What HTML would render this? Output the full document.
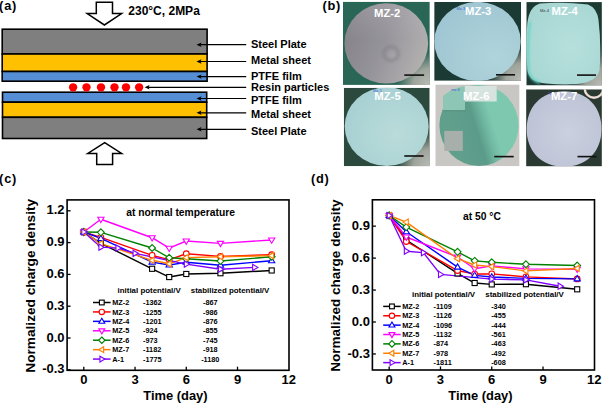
<!DOCTYPE html>
<html><head><meta charset="utf-8"><style>
html,body{margin:0;padding:0;background:#fff;width:603px;height:403px;overflow:hidden}
svg{display:block;font-family:"Liberation Sans",sans-serif;font-weight:bold}
</style></head><body>
<svg width="603" height="403" viewBox="0 0 603 403">
<text x="-0.9" y="9.5" font-size="12.8" letter-spacing="0.8">(a)</text>
<polygon points="96.3,2.3 112.5,2.3 112.5,13.6 121.6,13.6 104.4,25.0 87.2,13.6 96.3,13.6" fill="#fff" stroke="#000" stroke-width="1.5"/>
<text x="128.3" y="14.8" font-size="12">230°C, 2MPa</text>
<rect x="2.2" y="29.2" width="204.9" height="24.8" fill="#7f7f7f" stroke="#000" stroke-width="1.6"/>
<rect x="2.2" y="54" width="204.9" height="17.5" fill="#ffc000" stroke="#000" stroke-width="1.6"/>
<rect x="2.2" y="71.5" width="204.9" height="9.7" fill="#558ed5" stroke="#000" stroke-width="1.6"/>
<rect x="2.5" y="92.2" width="204.2" height="10" fill="#558ed5" stroke="#000" stroke-width="1.6"/>
<rect x="2.5" y="102.2" width="204.2" height="15.1" fill="#ffc000" stroke="#000" stroke-width="1.6"/>
<rect x="2.5" y="117.3" width="204.2" height="21.2" fill="#7f7f7f" stroke="#000" stroke-width="1.6"/>
<circle cx="73.1" cy="87.3" r="4.15" fill="#ff0000"/>
<circle cx="86.5" cy="87.3" r="4.15" fill="#ff0000"/>
<circle cx="101.0" cy="87.3" r="4.15" fill="#ff0000"/>
<circle cx="114.5" cy="87.3" r="4.15" fill="#ff0000"/>
<circle cx="126.0" cy="87.3" r="4.15" fill="#ff0000"/>
<circle cx="139.1" cy="87.3" r="4.15" fill="#ff0000"/>
<polygon points="104.7,142.7 121.6,153.4 112.6,153.4 112.6,164.6 96.7,164.6 96.7,153.4 87.8,153.4" fill="#fff" stroke="#000" stroke-width="1.5"/>
<line x1="199.5" y1="44.7" x2="246.2" y2="44.7" stroke="#000" stroke-width="1.2"/>
<polygon points="196.5,44.7 201.5,42.5 200.5,44.7 201.5,46.900000000000006" fill="#000"/>
<line x1="199.5" y1="61.5" x2="246.2" y2="61.5" stroke="#000" stroke-width="1.2"/>
<polygon points="196.5,61.5 201.5,59.3 200.5,61.5 201.5,63.7" fill="#000"/>
<line x1="199.5" y1="76.6" x2="246.2" y2="76.6" stroke="#000" stroke-width="1.2"/>
<polygon points="196.5,76.6 201.5,74.39999999999999 200.5,76.6 201.5,78.8" fill="#000"/>
<line x1="147.6" y1="87.3" x2="246.2" y2="87.3" stroke="#000" stroke-width="1.2"/>
<polygon points="144.6,87.3 149.6,85.1 148.6,87.3 149.6,89.5" fill="#000"/>
<line x1="199.5" y1="98.5" x2="246.2" y2="98.5" stroke="#000" stroke-width="1.2"/>
<polygon points="196.5,98.5 201.5,96.3 200.5,98.5 201.5,100.7" fill="#000"/>
<line x1="199.5" y1="112.8" x2="246.2" y2="112.8" stroke="#000" stroke-width="1.2"/>
<polygon points="196.5,112.8 201.5,110.6 200.5,112.8 201.5,115.0" fill="#000"/>
<line x1="199.5" y1="129.3" x2="246.2" y2="129.3" stroke="#000" stroke-width="1.2"/>
<polygon points="196.5,129.3 201.5,127.10000000000001 200.5,129.3 201.5,131.5" fill="#000"/>
<text x="251" y="47.8" font-size="11">Steel Plate</text>
<text x="251" y="64.2" font-size="11">Metal sheet</text>
<text x="251" y="79.6" font-size="11">PTFE film</text>
<text x="251" y="91.2" font-size="11">Resin particles</text>
<text x="251" y="103.6" font-size="11">PTFE film</text>
<text x="251" y="117.7" font-size="11">Metal sheet</text>
<text x="251" y="134.5" font-size="11">Steel Plate</text>
<text x="322.4" y="9.6" font-size="12.8" letter-spacing="0.8">(b)</text>
<defs>
<clipPath id="c1"><rect x="343" y="1.7" width="86.8" height="83.2"/></clipPath>
<clipPath id="c2"><rect x="434.2" y="1.9" width="86.8" height="78.9"/></clipPath>
<clipPath id="c3"><rect x="526.3" y="2.1" width="75.6" height="83.4"/></clipPath>
<clipPath id="c4"><rect x="343.8" y="87.8" width="85.9" height="78.4"/></clipPath>
<clipPath id="c5"><rect x="435.3" y="84.4" width="84.3" height="81.8"/></clipPath>
<clipPath id="c6"><rect x="526.1" y="89.3" width="75.8" height="77.1"/></clipPath>
<linearGradient id="g1" x1="0" y1="0.3" x2="1" y2="0.7"><stop offset="0" stop-color="#858389"/><stop offset="0.45" stop-color="#95939a"/><stop offset="0.8" stop-color="#a9a7a9"/><stop offset="1" stop-color="#b5b3af"/></linearGradient>
<linearGradient id="g1t" x1="0" y1="0" x2="0" y2="1"><stop offset="0" stop-color="#fff" stop-opacity="0.14"/><stop offset="0.45" stop-color="#fff" stop-opacity="0"/></linearGradient>
<radialGradient id="g2" cx="0.7" cy="0.7" r="0.8"><stop offset="0" stop-color="#b0d4db"/><stop offset="1" stop-color="#9ec5d2"/></radialGradient>
<radialGradient id="g3" cx="0.6" cy="0.55" r="0.75"><stop offset="0" stop-color="#b6e0dc"/><stop offset="1" stop-color="#a5d5d2"/></radialGradient>
<filter id="bl" x="-0.5" y="-0.5" width="2" height="2"><feGaussianBlur stdDeviation="0.8"/></filter>
<radialGradient id="g4" cx="0.62" cy="0.6" r="0.7"><stop offset="0" stop-color="#badcda"/><stop offset="1" stop-color="#a6cfd2"/></radialGradient>
<linearGradient id="g5" x1="0.2" y1="0.62" x2="0.68" y2="0.47"><stop offset="0" stop-color="#619f8d"/><stop offset="0.55" stop-color="#5b9b89"/><stop offset="0.8" stop-color="#70b8a2"/><stop offset="1" stop-color="#7fc8b0"/></linearGradient>
<radialGradient id="g6" cx="0.55" cy="0.55" r="0.7"><stop offset="0" stop-color="#cbd0df"/><stop offset="1" stop-color="#bac0d4"/></radialGradient>
<radialGradient id="ref" cx="1" cy="1" r="1"><stop offset="0" stop-color="#b9bcb4"/><stop offset="0.5" stop-color="#a4a8a0" stop-opacity="0.95"/><stop offset="1" stop-color="#9a9e96" stop-opacity="0"/></radialGradient>
</defs>
<g clip-path="url(#c1)"><rect x="343" y="1.7" width="86.8" height="83.2" fill="#2a6656"/>
<rect x="397" y="52" width="33" height="33" fill="url(#ref)"/>
<ellipse cx="386.3" cy="43.4" rx="41.8" ry="40.2" fill="url(#g1)"/>
<ellipse cx="386.3" cy="43.4" rx="41.8" ry="40.2" fill="url(#g1t)"/>
<filter id="bl2" x="-0.5" y="-0.5" width="2" height="2"><feGaussianBlur stdDeviation="1.6"/></filter>
<ellipse cx="391" cy="53.5" rx="7.5" ry="7" fill="none" stroke="#737177" stroke-width="3" opacity="0.4" filter="url(#bl2)"/>
<ellipse cx="392" cy="55" rx="3" ry="3" fill="#b0aeb0" opacity="0.5" filter="url(#bl2)"/></g>
<text x="387.2" y="17" font-size="11.3" fill="#fff" text-anchor="middle">MZ-2</text>
<rect x="404.3" y="74.3" width="19.8" height="1.6" fill="#111"/>
<g clip-path="url(#c2)"><rect x="434.2" y="1.9" width="86.8" height="78.9" fill="#1b3a34"/>
<rect x="490" y="46" width="31" height="35" fill="url(#ref)"/>
<ellipse cx="477.5" cy="41.5" rx="43.2" ry="39.6" fill="url(#g2)"/></g>
<text x="478.2" y="15.3" font-size="11.3" fill="#fff" text-anchor="middle">MZ-3</text>
<rect x="496" y="74" width="19" height="1.6" fill="#111"/>
<g clip-path="url(#c3)"><rect x="526.3" y="2.1" width="75.6" height="83.4" fill="#1c3932"/>
<rect x="570" y="50" width="32" height="36" fill="url(#ref)"/>
<path d="M540,3.5 Q563,1.5 588,4.5 Q597,8 598.5,20 Q601.5,45 599.5,70 Q597,82 577,84 Q563,85 546,83.5 Q529,82 527.5,70 Q525,45 527.5,22 Q529.5,6.5 540,3.5 Z" fill="url(#g3)"/>
<path d="M530,22 Q527,45 528.5,70 Q530,80 540,83" fill="none" stroke="#68d4c6" stroke-width="2.2" filter="url(#bl)"/></g>
<text x="564.7" y="15.3" font-size="11.3" fill="#fff" text-anchor="middle">MZ-4</text>
<rect x="577" y="74.3" width="19" height="1.6" fill="#111"/>
<g clip-path="url(#c4)"><rect x="343.8" y="87.8" width="85.9" height="78.4" fill="#2c493e"/>
<rect x="397" y="132" width="33" height="34.5" fill="url(#ref)"/>
<ellipse cx="386.7" cy="126.6" rx="42" ry="39.3" fill="url(#g4)"/></g>
<text x="387.5" y="99.7" font-size="11.3" fill="#fff" text-anchor="middle">MZ-5</text>
<rect x="404.3" y="155.2" width="19.3" height="1.6" fill="#111"/>
<g clip-path="url(#c5)"><rect x="435.3" y="84.4" width="84.3" height="81.8" fill="#c8c7c4"/>
<ellipse cx="479" cy="125.5" rx="39.6" ry="40.5" fill="url(#g5)"/>
<path d="M443,110.7 L443,96 Q452,88 465,86 L465,110.7 Z" fill="#8dc6b5"/>
<line x1="443" y1="110.7" x2="466" y2="110.7" stroke="#4a8070" stroke-width="0.8"/>
<rect x="464.8" y="86" width="31.9" height="15.5" fill="#d6e3de"/>
<rect x="444.3" y="130.9" width="18.5" height="20" fill="#a7afab"/></g>
<text x="476.3" y="100.1" font-size="11.3" fill="#fff" text-anchor="middle">MZ-6</text>
<rect x="494.3" y="155.8" width="19.4" height="1.6" fill="#111"/>
<g clip-path="url(#c6)"><rect x="526.1" y="89.3" width="75.8" height="77.1" fill="#2a3a32"/>
<path d="M564.1,91.2 C586.54,91.2 601.5,106.32 601.5,129 C601.5,151.68 586.54,166.8 564.1,166.8 C541.66,166.8 526.7,151.68 526.7,129 C526.7,106.32 541.66,91.2 564.1,91.2 Z" fill="url(#g6)"/>
<circle cx="594" cy="88.4" r="9.3" fill="none" stroke="#efdcd6" stroke-width="2.4"/></g>
<text x="564.1" y="99.7" font-size="11.3" fill="#fff" text-anchor="middle">MZ-7</text>
<rect x="577.5" y="155.8" width="19" height="1.6" fill="#111"/>
<g font-size="4" font-weight="normal" fill="#3a5fd0">
<text x="456.4" y="9.6">Mz-3</text>
<text x="540" y="11.8" fill="#334">Mz-4</text>
<text x="373" y="91.6">Mz-5</text>
<text x="451.2" y="91">mz-6</text>
<path d="M548.5,92.5 L551,94.5" stroke="#5b5bd0" stroke-width="0.8"/>
</g>
<text x="-0.9" y="183.3" font-size="12.8" letter-spacing="0.8">(c)</text>
<polyline points="83.8,232 100.88,243.34 152.12,268.78 169.2,277.05 186.28,273.98 220.44,273.23 271.68,270.48" fill="none" stroke="#000000" stroke-width="1.4" stroke-linejoin="round"/>
<polyline points="83.8,232 100.88,237.3 152.12,255.32 169.2,259.56 186.28,253.73 220.44,256.38 271.68,254.68" fill="none" stroke="#ff0000" stroke-width="1.4" stroke-linejoin="round"/>
<polyline points="83.8,232 100.88,238.47 152.12,262.1 169.2,264.97 186.28,262.32 220.44,265.28 271.68,260.73" fill="none" stroke="#0000ff" stroke-width="1.4" stroke-linejoin="round"/>
<polyline points="83.8,232 100.88,219.28 152.12,237.72 169.2,248.22 186.28,241.01 220.44,243.34 271.68,239.95" fill="none" stroke="#ff00ff" stroke-width="1.4" stroke-linejoin="round"/>
<polyline points="83.8,232 100.88,232.32 152.12,248.01 169.2,257.76 186.28,258.82 220.44,261.04 271.68,256.8" fill="none" stroke="#008000" stroke-width="1.4" stroke-linejoin="round"/>
<polyline points="83.8,232 100.88,243.66 152.12,260.3 169.2,263.8 186.28,257.65 220.44,256.7 271.68,255.64" fill="none" stroke="#ff8000" stroke-width="1.4" stroke-linejoin="round"/>
<polyline points="83.8,232 100.88,247.16 117.96,248.11 135.04,253.31 186.28,264.12 220.44,269.21 254.6,267.4" fill="none" stroke="#8000ff" stroke-width="1.4" stroke-linejoin="round"/>
<rect x="81.25" y="229.45" width="5.1" height="5.1" fill="#fff" stroke="#000000" stroke-width="1.1"/>
<rect x="98.33" y="240.79" width="5.1" height="5.1" fill="#fff" stroke="#000000" stroke-width="1.1"/>
<rect x="149.57" y="266.23" width="5.1" height="5.1" fill="#fff" stroke="#000000" stroke-width="1.1"/>
<rect x="166.65" y="274.5" width="5.1" height="5.1" fill="#fff" stroke="#000000" stroke-width="1.1"/>
<rect x="183.73" y="271.43" width="5.1" height="5.1" fill="#fff" stroke="#000000" stroke-width="1.1"/>
<rect x="217.89" y="270.68" width="5.1" height="5.1" fill="#fff" stroke="#000000" stroke-width="1.1"/>
<rect x="269.13" y="267.93" width="5.1" height="5.1" fill="#fff" stroke="#000000" stroke-width="1.1"/>
<circle cx="83.8" cy="232" r="2.85" fill="#fff" stroke="#ff0000" stroke-width="1.1"/>
<circle cx="100.88" cy="237.3" r="2.85" fill="#fff" stroke="#ff0000" stroke-width="1.1"/>
<circle cx="152.12" cy="255.32" r="2.85" fill="#fff" stroke="#ff0000" stroke-width="1.1"/>
<circle cx="169.2" cy="259.56" r="2.85" fill="#fff" stroke="#ff0000" stroke-width="1.1"/>
<circle cx="186.28" cy="253.73" r="2.85" fill="#fff" stroke="#ff0000" stroke-width="1.1"/>
<circle cx="220.44" cy="256.38" r="2.85" fill="#fff" stroke="#ff0000" stroke-width="1.1"/>
<circle cx="271.68" cy="254.68" r="2.85" fill="#fff" stroke="#ff0000" stroke-width="1.1"/>
<polygon points="83.8,228.7 86.94,233.98 80.66,233.98" fill="#fff" stroke="#0000ff" stroke-width="1.1"/>
<polygon points="100.88,235.17 104.02,240.45 97.74,240.45" fill="#fff" stroke="#0000ff" stroke-width="1.1"/>
<polygon points="152.12,258.8 155.25,264.08 148.99,264.08" fill="#fff" stroke="#0000ff" stroke-width="1.1"/>
<polygon points="169.2,261.67 172.33,266.95 166.06,266.95" fill="#fff" stroke="#0000ff" stroke-width="1.1"/>
<polygon points="186.28,259.02 189.41,264.3 183.14,264.3" fill="#fff" stroke="#0000ff" stroke-width="1.1"/>
<polygon points="220.44,261.98 223.57,267.26 217.31,267.26" fill="#fff" stroke="#0000ff" stroke-width="1.1"/>
<polygon points="271.68,257.43 274.81,262.71 268.55,262.71" fill="#fff" stroke="#0000ff" stroke-width="1.1"/>
<polygon points="83.8,235.3 86.94,230.02 80.66,230.02" fill="#fff" stroke="#ff00ff" stroke-width="1.1"/>
<polygon points="100.88,222.58 104.02,217.3 97.74,217.3" fill="#fff" stroke="#ff00ff" stroke-width="1.1"/>
<polygon points="152.12,241.02 155.25,235.74 148.99,235.74" fill="#fff" stroke="#ff00ff" stroke-width="1.1"/>
<polygon points="169.2,251.52 172.33,246.24 166.06,246.24" fill="#fff" stroke="#ff00ff" stroke-width="1.1"/>
<polygon points="186.28,244.31 189.41,239.03 183.14,239.03" fill="#fff" stroke="#ff00ff" stroke-width="1.1"/>
<polygon points="220.44,246.64 223.57,241.36 217.31,241.36" fill="#fff" stroke="#ff00ff" stroke-width="1.1"/>
<polygon points="271.68,243.25 274.81,237.97 268.55,237.97" fill="#fff" stroke="#ff00ff" stroke-width="1.1"/>
<polygon points="83.8,228.55 87.25,232 83.8,235.45 80.35,232" fill="#fff" stroke="#008000" stroke-width="1.1"/>
<polygon points="100.88,228.87 104.33,232.32 100.88,235.77 97.43,232.32" fill="#fff" stroke="#008000" stroke-width="1.1"/>
<polygon points="152.12,244.56 155.57,248.01 152.12,251.46 148.67,248.01" fill="#fff" stroke="#008000" stroke-width="1.1"/>
<polygon points="169.2,254.31 172.65,257.76 169.2,261.21 165.75,257.76" fill="#fff" stroke="#008000" stroke-width="1.1"/>
<polygon points="186.28,255.37 189.73,258.82 186.28,262.27 182.83,258.82" fill="#fff" stroke="#008000" stroke-width="1.1"/>
<polygon points="220.44,257.59 223.89,261.04 220.44,264.49 216.99,261.04" fill="#fff" stroke="#008000" stroke-width="1.1"/>
<polygon points="271.68,253.35 275.13,256.8 271.68,260.25 268.23,256.8" fill="#fff" stroke="#008000" stroke-width="1.1"/>
<polygon points="80.5,232 85.78,228.87 85.78,235.13" fill="#fff" stroke="#ff8000" stroke-width="1.1"/>
<polygon points="97.58,243.66 102.86,240.53 102.86,246.79" fill="#fff" stroke="#ff8000" stroke-width="1.1"/>
<polygon points="148.82,260.3 154.1,257.17 154.1,263.44" fill="#fff" stroke="#ff8000" stroke-width="1.1"/>
<polygon points="165.9,263.8 171.18,260.67 171.18,266.94" fill="#fff" stroke="#ff8000" stroke-width="1.1"/>
<polygon points="182.98,257.65 188.26,254.52 188.26,260.79" fill="#fff" stroke="#ff8000" stroke-width="1.1"/>
<polygon points="217.14,256.7 222.42,253.56 222.42,259.83" fill="#fff" stroke="#ff8000" stroke-width="1.1"/>
<polygon points="268.38,255.64 273.66,252.5 273.66,258.77" fill="#fff" stroke="#ff8000" stroke-width="1.1"/>
<polygon points="87.1,232 81.82,228.87 81.82,235.13" fill="#fff" stroke="#8000ff" stroke-width="1.1"/>
<polygon points="104.18,247.16 98.9,244.02 98.9,250.29" fill="#fff" stroke="#8000ff" stroke-width="1.1"/>
<polygon points="121.26,248.11 115.98,244.98 115.98,251.25" fill="#fff" stroke="#8000ff" stroke-width="1.1"/>
<polygon points="138.34,253.31 133.06,250.17 133.06,256.44" fill="#fff" stroke="#8000ff" stroke-width="1.1"/>
<polygon points="189.58,264.12 184.3,260.98 184.3,267.25" fill="#fff" stroke="#8000ff" stroke-width="1.1"/>
<polygon points="223.74,269.21 218.46,266.07 218.46,272.34" fill="#fff" stroke="#8000ff" stroke-width="1.1"/>
<polygon points="257.9,267.4 252.62,264.27 252.62,270.54" fill="#fff" stroke="#8000ff" stroke-width="1.1"/>
<rect x="67.1" y="199.9" width="221.9" height="170.4" fill="none" stroke="#000" stroke-width="1.6"/>
<line x1="67.1" y1="210.8" x2="70.6" y2="210.8" stroke="#000" stroke-width="1.3"/>
<text x="64.6" y="214.4" font-size="13" text-anchor="end">1.2</text>
<line x1="67.1" y1="242.6" x2="70.6" y2="242.6" stroke="#000" stroke-width="1.3"/>
<text x="64.6" y="246.2" font-size="13" text-anchor="end">0.9</text>
<line x1="67.1" y1="274.4" x2="70.6" y2="274.4" stroke="#000" stroke-width="1.3"/>
<text x="64.6" y="278" font-size="13" text-anchor="end">0.6</text>
<line x1="67.1" y1="306.2" x2="70.6" y2="306.2" stroke="#000" stroke-width="1.3"/>
<text x="64.6" y="309.8" font-size="13" text-anchor="end">0.3</text>
<line x1="67.1" y1="338" x2="70.6" y2="338" stroke="#000" stroke-width="1.3"/>
<text x="64.6" y="341.6" font-size="13" text-anchor="end">0.0</text>
<line x1="67.1" y1="369.8" x2="70.6" y2="369.8" stroke="#000" stroke-width="1.3"/>
<text x="64.6" y="373.4" font-size="13" text-anchor="end">-0.3</text>
<line x1="83.8" y1="370.3" x2="83.8" y2="366.7" stroke="#000" stroke-width="1.3"/>
<text x="83.8" y="384.3" font-size="13" text-anchor="middle">0</text>
<line x1="135.04" y1="370.3" x2="135.04" y2="366.7" stroke="#000" stroke-width="1.3"/>
<text x="135.04" y="384.3" font-size="13" text-anchor="middle">3</text>
<line x1="186.28" y1="370.3" x2="186.28" y2="366.7" stroke="#000" stroke-width="1.3"/>
<text x="186.28" y="384.3" font-size="13" text-anchor="middle">6</text>
<line x1="237.52" y1="370.3" x2="237.52" y2="366.7" stroke="#000" stroke-width="1.3"/>
<text x="237.52" y="384.3" font-size="13" text-anchor="middle">9</text>
<text x="288.76" y="384.3" font-size="13" text-anchor="middle">12</text>
<text x="143.3" y="399.8" font-size="12.9">Time (day)</text>
<text transform="translate(35,372.7) rotate(-90)" font-size="13.66">Normalized charge density</text>
<text x="126.2" y="216.3" font-size="10.3">at normal temperature</text>
<text x="117.6" y="292.9" font-size="7.9">initial potential/V</text>
<text x="190.8" y="292.6" font-size="7.9">stabilized potential/V</text>
<line x1="93" y1="302.5" x2="110.6" y2="302.5" stroke="#000000" stroke-width="1.5"/>
<rect x="99.42" y="300.12" width="4.76" height="4.76" fill="#fff" stroke="#000000" stroke-width="1.15"/>
<text x="112.2" y="305.1" font-size="7.3">MZ-2</text>
<text x="143" y="305.1" font-size="7.3">-1362</text>
<text x="210.3" y="305.1" font-size="7.3" text-anchor="middle">-867</text>
<line x1="93" y1="311.93" x2="110.6" y2="311.93" stroke="#ff0000" stroke-width="1.5"/>
<circle cx="101.8" cy="311.93" r="2.66" fill="#fff" stroke="#ff0000" stroke-width="1.15"/>
<text x="112.2" y="314.53" font-size="7.3">MZ-3</text>
<text x="143" y="314.53" font-size="7.3">-1255</text>
<text x="210.3" y="314.53" font-size="7.3" text-anchor="middle">-986</text>
<line x1="93" y1="321.36" x2="110.6" y2="321.36" stroke="#0000ff" stroke-width="1.5"/>
<polygon points="101.8,318.28 104.73,323.21 98.87,323.21" fill="#fff" stroke="#0000ff" stroke-width="1.15"/>
<text x="112.2" y="323.96" font-size="7.3">MZ-4</text>
<text x="143" y="323.96" font-size="7.3">-1201</text>
<text x="210.3" y="323.96" font-size="7.3" text-anchor="middle">-876</text>
<line x1="93" y1="330.79" x2="110.6" y2="330.79" stroke="#ff00ff" stroke-width="1.5"/>
<polygon points="101.8,333.87 104.73,328.94 98.87,328.94" fill="#fff" stroke="#ff00ff" stroke-width="1.15"/>
<text x="112.2" y="333.39" font-size="7.3">MZ-5</text>
<text x="143" y="333.39" font-size="7.3">-924</text>
<text x="210.3" y="333.39" font-size="7.3" text-anchor="middle">-855</text>
<line x1="93" y1="340.22" x2="110.6" y2="340.22" stroke="#008000" stroke-width="1.5"/>
<polygon points="101.8,337 105.02,340.22 101.8,343.44 98.58,340.22" fill="#fff" stroke="#008000" stroke-width="1.15"/>
<text x="112.2" y="342.82" font-size="7.3">MZ-6</text>
<text x="143" y="342.82" font-size="7.3">-973</text>
<text x="210.3" y="342.82" font-size="7.3" text-anchor="middle">-745</text>
<line x1="93" y1="349.65" x2="110.6" y2="349.65" stroke="#ff8000" stroke-width="1.5"/>
<polygon points="98.72,349.65 103.65,346.72 103.65,352.58" fill="#fff" stroke="#ff8000" stroke-width="1.15"/>
<text x="112.2" y="352.25" font-size="7.3">MZ-7</text>
<text x="143" y="352.25" font-size="7.3">-1182</text>
<text x="210.3" y="352.25" font-size="7.3" text-anchor="middle">-918</text>
<line x1="93" y1="359.08" x2="110.6" y2="359.08" stroke="#8000ff" stroke-width="1.5"/>
<polygon points="104.88,359.08 99.95,356.15 99.95,362.01" fill="#fff" stroke="#8000ff" stroke-width="1.15"/>
<text x="112.2" y="361.68" font-size="7.3">A-1</text>
<text x="143" y="361.68" font-size="7.3">-1775</text>
<text x="210.3" y="361.68" font-size="7.3" text-anchor="middle">-1180</text>
<text x="310.9" y="183.3" font-size="12.8" letter-spacing="0.8">(d)</text>
<polyline points="389.2,215.5 406.29,240 457.56,273.44 474.65,283.02 491.74,284.41 525.92,284.19 577.19,289.3" fill="none" stroke="#000000" stroke-width="1.4" stroke-linejoin="round"/>
<polyline points="389.2,215.5 406.29,241.49 457.56,270.56 474.65,274.07 491.74,273.86 525.92,276.84 577.19,278.97" fill="none" stroke="#ff0000" stroke-width="1.4" stroke-linejoin="round"/>
<polyline points="389.2,215.5 406.29,231.79 457.56,267.15 474.65,275.35 491.74,277.06 525.92,278.33 577.19,278.87" fill="none" stroke="#0000ff" stroke-width="1.4" stroke-linejoin="round"/>
<polyline points="389.2,215.5 406.29,237.01 457.56,257.03 474.65,268.75 491.74,265.87 525.92,268.86 577.19,269.18" fill="none" stroke="#ff00ff" stroke-width="1.4" stroke-linejoin="round"/>
<polyline points="389.2,215.5 406.29,227.11 457.56,251.82 474.65,260.87 491.74,262.25 525.92,264.28 577.19,265.56" fill="none" stroke="#008000" stroke-width="1.4" stroke-linejoin="round"/>
<polyline points="389.2,215.5 406.29,222.1 457.56,258.63 474.65,265.02 491.74,266.62 525.92,270.88 577.19,268.43" fill="none" stroke="#ff8000" stroke-width="1.4" stroke-linejoin="round"/>
<polyline points="389.2,215.5 406.29,251.18 423.38,252.67 440.47,274.39 491.74,279.08 525.92,279.83 560.1,286.22" fill="none" stroke="#8000ff" stroke-width="1.4" stroke-linejoin="round"/>
<rect x="386.65" y="212.95" width="5.1" height="5.1" fill="#fff" stroke="#000000" stroke-width="1.1"/>
<rect x="403.74" y="237.44" width="5.1" height="5.1" fill="#fff" stroke="#000000" stroke-width="1.1"/>
<rect x="455.01" y="270.89" width="5.1" height="5.1" fill="#fff" stroke="#000000" stroke-width="1.1"/>
<rect x="472.1" y="280.47" width="5.1" height="5.1" fill="#fff" stroke="#000000" stroke-width="1.1"/>
<rect x="489.19" y="281.86" width="5.1" height="5.1" fill="#fff" stroke="#000000" stroke-width="1.1"/>
<rect x="523.37" y="281.64" width="5.1" height="5.1" fill="#fff" stroke="#000000" stroke-width="1.1"/>
<rect x="574.64" y="286.75" width="5.1" height="5.1" fill="#fff" stroke="#000000" stroke-width="1.1"/>
<circle cx="389.2" cy="215.5" r="2.85" fill="#fff" stroke="#ff0000" stroke-width="1.1"/>
<circle cx="406.29" cy="241.49" r="2.85" fill="#fff" stroke="#ff0000" stroke-width="1.1"/>
<circle cx="457.56" cy="270.56" r="2.85" fill="#fff" stroke="#ff0000" stroke-width="1.1"/>
<circle cx="474.65" cy="274.07" r="2.85" fill="#fff" stroke="#ff0000" stroke-width="1.1"/>
<circle cx="491.74" cy="273.86" r="2.85" fill="#fff" stroke="#ff0000" stroke-width="1.1"/>
<circle cx="525.92" cy="276.84" r="2.85" fill="#fff" stroke="#ff0000" stroke-width="1.1"/>
<circle cx="577.19" cy="278.97" r="2.85" fill="#fff" stroke="#ff0000" stroke-width="1.1"/>
<polygon points="389.2,212.2 392.33,217.48 386.06,217.48" fill="#fff" stroke="#0000ff" stroke-width="1.1"/>
<polygon points="406.29,228.49 409.42,233.77 403.15,233.77" fill="#fff" stroke="#0000ff" stroke-width="1.1"/>
<polygon points="457.56,263.85 460.69,269.13 454.43,269.13" fill="#fff" stroke="#0000ff" stroke-width="1.1"/>
<polygon points="474.65,272.05 477.78,277.33 471.51,277.33" fill="#fff" stroke="#0000ff" stroke-width="1.1"/>
<polygon points="491.74,273.76 494.88,279.04 488.61,279.04" fill="#fff" stroke="#0000ff" stroke-width="1.1"/>
<polygon points="525.92,275.03 529.05,280.31 522.78,280.31" fill="#fff" stroke="#0000ff" stroke-width="1.1"/>
<polygon points="577.19,275.57 580.33,280.85 574.06,280.85" fill="#fff" stroke="#0000ff" stroke-width="1.1"/>
<polygon points="389.2,218.8 392.33,213.52 386.06,213.52" fill="#fff" stroke="#ff00ff" stroke-width="1.1"/>
<polygon points="406.29,240.31 409.42,235.03 403.15,235.03" fill="#fff" stroke="#ff00ff" stroke-width="1.1"/>
<polygon points="457.56,260.33 460.69,255.05 454.43,255.05" fill="#fff" stroke="#ff00ff" stroke-width="1.1"/>
<polygon points="474.65,272.05 477.78,266.77 471.51,266.77" fill="#fff" stroke="#ff00ff" stroke-width="1.1"/>
<polygon points="491.74,269.17 494.88,263.89 488.61,263.89" fill="#fff" stroke="#ff00ff" stroke-width="1.1"/>
<polygon points="525.92,272.16 529.05,266.88 522.78,266.88" fill="#fff" stroke="#ff00ff" stroke-width="1.1"/>
<polygon points="577.19,272.48 580.33,267.2 574.06,267.2" fill="#fff" stroke="#ff00ff" stroke-width="1.1"/>
<polygon points="389.2,212.05 392.65,215.5 389.2,218.95 385.75,215.5" fill="#fff" stroke="#008000" stroke-width="1.1"/>
<polygon points="406.29,223.66 409.74,227.11 406.29,230.56 402.84,227.11" fill="#fff" stroke="#008000" stroke-width="1.1"/>
<polygon points="457.56,248.37 461.01,251.82 457.56,255.27 454.11,251.82" fill="#fff" stroke="#008000" stroke-width="1.1"/>
<polygon points="474.65,257.42 478.1,260.87 474.65,264.32 471.2,260.87" fill="#fff" stroke="#008000" stroke-width="1.1"/>
<polygon points="491.74,258.8 495.19,262.25 491.74,265.7 488.29,262.25" fill="#fff" stroke="#008000" stroke-width="1.1"/>
<polygon points="525.92,260.83 529.37,264.28 525.92,267.73 522.47,264.28" fill="#fff" stroke="#008000" stroke-width="1.1"/>
<polygon points="577.19,262.11 580.64,265.56 577.19,269 573.74,265.56" fill="#fff" stroke="#008000" stroke-width="1.1"/>
<polygon points="385.9,215.5 391.18,212.37 391.18,218.63" fill="#fff" stroke="#ff8000" stroke-width="1.1"/>
<polygon points="402.99,222.1 408.27,218.97 408.27,225.24" fill="#fff" stroke="#ff8000" stroke-width="1.1"/>
<polygon points="454.26,258.63 459.54,255.5 459.54,261.77" fill="#fff" stroke="#ff8000" stroke-width="1.1"/>
<polygon points="471.35,265.02 476.63,261.89 476.63,268.16" fill="#fff" stroke="#ff8000" stroke-width="1.1"/>
<polygon points="488.44,266.62 493.72,263.49 493.72,269.75" fill="#fff" stroke="#ff8000" stroke-width="1.1"/>
<polygon points="522.62,270.88 527.9,267.75 527.9,274.01" fill="#fff" stroke="#ff8000" stroke-width="1.1"/>
<polygon points="573.89,268.43 579.17,265.3 579.17,271.57" fill="#fff" stroke="#ff8000" stroke-width="1.1"/>
<polygon points="392.5,215.5 387.22,212.37 387.22,218.63" fill="#fff" stroke="#8000ff" stroke-width="1.1"/>
<polygon points="409.59,251.18 404.31,248.04 404.31,254.31" fill="#fff" stroke="#8000ff" stroke-width="1.1"/>
<polygon points="426.68,252.67 421.4,249.53 421.4,255.8" fill="#fff" stroke="#8000ff" stroke-width="1.1"/>
<polygon points="443.77,274.39 438.49,271.26 438.49,277.53" fill="#fff" stroke="#8000ff" stroke-width="1.1"/>
<polygon points="495.04,279.08 489.76,275.95 489.76,282.22" fill="#fff" stroke="#8000ff" stroke-width="1.1"/>
<polygon points="529.22,279.83 523.94,276.69 523.94,282.96" fill="#fff" stroke="#8000ff" stroke-width="1.1"/>
<polygon points="563.4,286.22 558.12,283.08 558.12,289.35" fill="#fff" stroke="#8000ff" stroke-width="1.1"/>
<rect x="372.4" y="199.8" width="222.1" height="170.2" fill="none" stroke="#000" stroke-width="1.6"/>
<line x1="372.4" y1="226.15" x2="375.9" y2="226.15" stroke="#000" stroke-width="1.3"/>
<text x="369.9" y="229.75" font-size="13" text-anchor="end">0.9</text>
<line x1="372.4" y1="258.1" x2="375.9" y2="258.1" stroke="#000" stroke-width="1.3"/>
<text x="369.9" y="261.7" font-size="13" text-anchor="end">0.6</text>
<line x1="372.4" y1="290.05" x2="375.9" y2="290.05" stroke="#000" stroke-width="1.3"/>
<text x="369.9" y="293.65" font-size="13" text-anchor="end">0.3</text>
<line x1="372.4" y1="322" x2="375.9" y2="322" stroke="#000" stroke-width="1.3"/>
<text x="369.9" y="325.6" font-size="13" text-anchor="end">0.0</text>
<line x1="372.4" y1="353.95" x2="375.9" y2="353.95" stroke="#000" stroke-width="1.3"/>
<text x="369.9" y="357.55" font-size="13" text-anchor="end">-0.3</text>
<line x1="389.2" y1="370.0" x2="389.2" y2="366.4" stroke="#000" stroke-width="1.3"/>
<text x="389.2" y="384" font-size="13" text-anchor="middle">0</text>
<line x1="440.47" y1="370.0" x2="440.47" y2="366.4" stroke="#000" stroke-width="1.3"/>
<text x="440.47" y="384" font-size="13" text-anchor="middle">3</text>
<line x1="491.74" y1="370.0" x2="491.74" y2="366.4" stroke="#000" stroke-width="1.3"/>
<text x="491.74" y="384" font-size="13" text-anchor="middle">6</text>
<line x1="543.01" y1="370.0" x2="543.01" y2="366.4" stroke="#000" stroke-width="1.3"/>
<text x="543.01" y="384" font-size="13" text-anchor="middle">9</text>
<text x="594.28" y="384" font-size="13" text-anchor="middle">12</text>
<text x="448.3" y="399.8" font-size="12.9">Time (day)</text>
<text transform="translate(340.2,371.8) rotate(-90)" font-size="13.56">Normalized charge density</text>
<text x="463" y="220" font-size="10.3">at 50 °C</text>
<text x="412" y="297.2" font-size="7.9">initial potential/V</text>
<text x="485.3" y="297.2" font-size="7.9">stabilized potential/V</text>
<line x1="383.2" y1="306.4" x2="400.7" y2="306.4" stroke="#000000" stroke-width="1.5"/>
<rect x="389.57" y="304.02" width="4.76" height="4.76" fill="#fff" stroke="#000000" stroke-width="1.15"/>
<text x="402.2" y="309" font-size="7.3">MZ-2</text>
<text x="433.5" y="309" font-size="7.3">-1109</text>
<text x="498.5" y="309" font-size="7.3" text-anchor="middle">-340</text>
<line x1="383.2" y1="315.77" x2="400.7" y2="315.77" stroke="#ff0000" stroke-width="1.5"/>
<circle cx="391.95" cy="315.77" r="2.66" fill="#fff" stroke="#ff0000" stroke-width="1.15"/>
<text x="402.2" y="318.37" font-size="7.3">MZ-3</text>
<text x="433.5" y="318.37" font-size="7.3">-1126</text>
<text x="498.5" y="318.37" font-size="7.3" text-anchor="middle">-455</text>
<line x1="383.2" y1="325.14" x2="400.7" y2="325.14" stroke="#0000ff" stroke-width="1.5"/>
<polygon points="391.95,322.06 394.88,326.99 389.02,326.99" fill="#fff" stroke="#0000ff" stroke-width="1.15"/>
<text x="402.2" y="327.74" font-size="7.3">MZ-4</text>
<text x="433.5" y="327.74" font-size="7.3">-1096</text>
<text x="498.5" y="327.74" font-size="7.3" text-anchor="middle">-444</text>
<line x1="383.2" y1="334.51" x2="400.7" y2="334.51" stroke="#ff00ff" stroke-width="1.5"/>
<polygon points="391.95,337.59 394.88,332.66 389.02,332.66" fill="#fff" stroke="#ff00ff" stroke-width="1.15"/>
<text x="402.2" y="337.11" font-size="7.3">MZ-5</text>
<text x="433.5" y="337.11" font-size="7.3">-1132</text>
<text x="498.5" y="337.11" font-size="7.3" text-anchor="middle">-561</text>
<line x1="383.2" y1="343.88" x2="400.7" y2="343.88" stroke="#008000" stroke-width="1.5"/>
<polygon points="391.95,340.66 395.17,343.88 391.95,347.1 388.73,343.88" fill="#fff" stroke="#008000" stroke-width="1.15"/>
<text x="402.2" y="346.48" font-size="7.3">MZ-6</text>
<text x="433.5" y="346.48" font-size="7.3">-874</text>
<text x="498.5" y="346.48" font-size="7.3" text-anchor="middle">-463</text>
<line x1="383.2" y1="353.25" x2="400.7" y2="353.25" stroke="#ff8000" stroke-width="1.5"/>
<polygon points="388.87,353.25 393.8,350.32 393.8,356.18" fill="#fff" stroke="#ff8000" stroke-width="1.15"/>
<text x="402.2" y="355.85" font-size="7.3">MZ-7</text>
<text x="433.5" y="355.85" font-size="7.3">-978</text>
<text x="498.5" y="355.85" font-size="7.3" text-anchor="middle">-492</text>
<line x1="383.2" y1="362.62" x2="400.7" y2="362.62" stroke="#8000ff" stroke-width="1.5"/>
<polygon points="395.03,362.62 390.1,359.69 390.1,365.55" fill="#fff" stroke="#8000ff" stroke-width="1.15"/>
<text x="402.2" y="365.22" font-size="7.3">A-1</text>
<text x="433.5" y="365.22" font-size="7.3">-1811</text>
<text x="498.5" y="365.22" font-size="7.3" text-anchor="middle">-608</text>
</svg>
</body></html>
